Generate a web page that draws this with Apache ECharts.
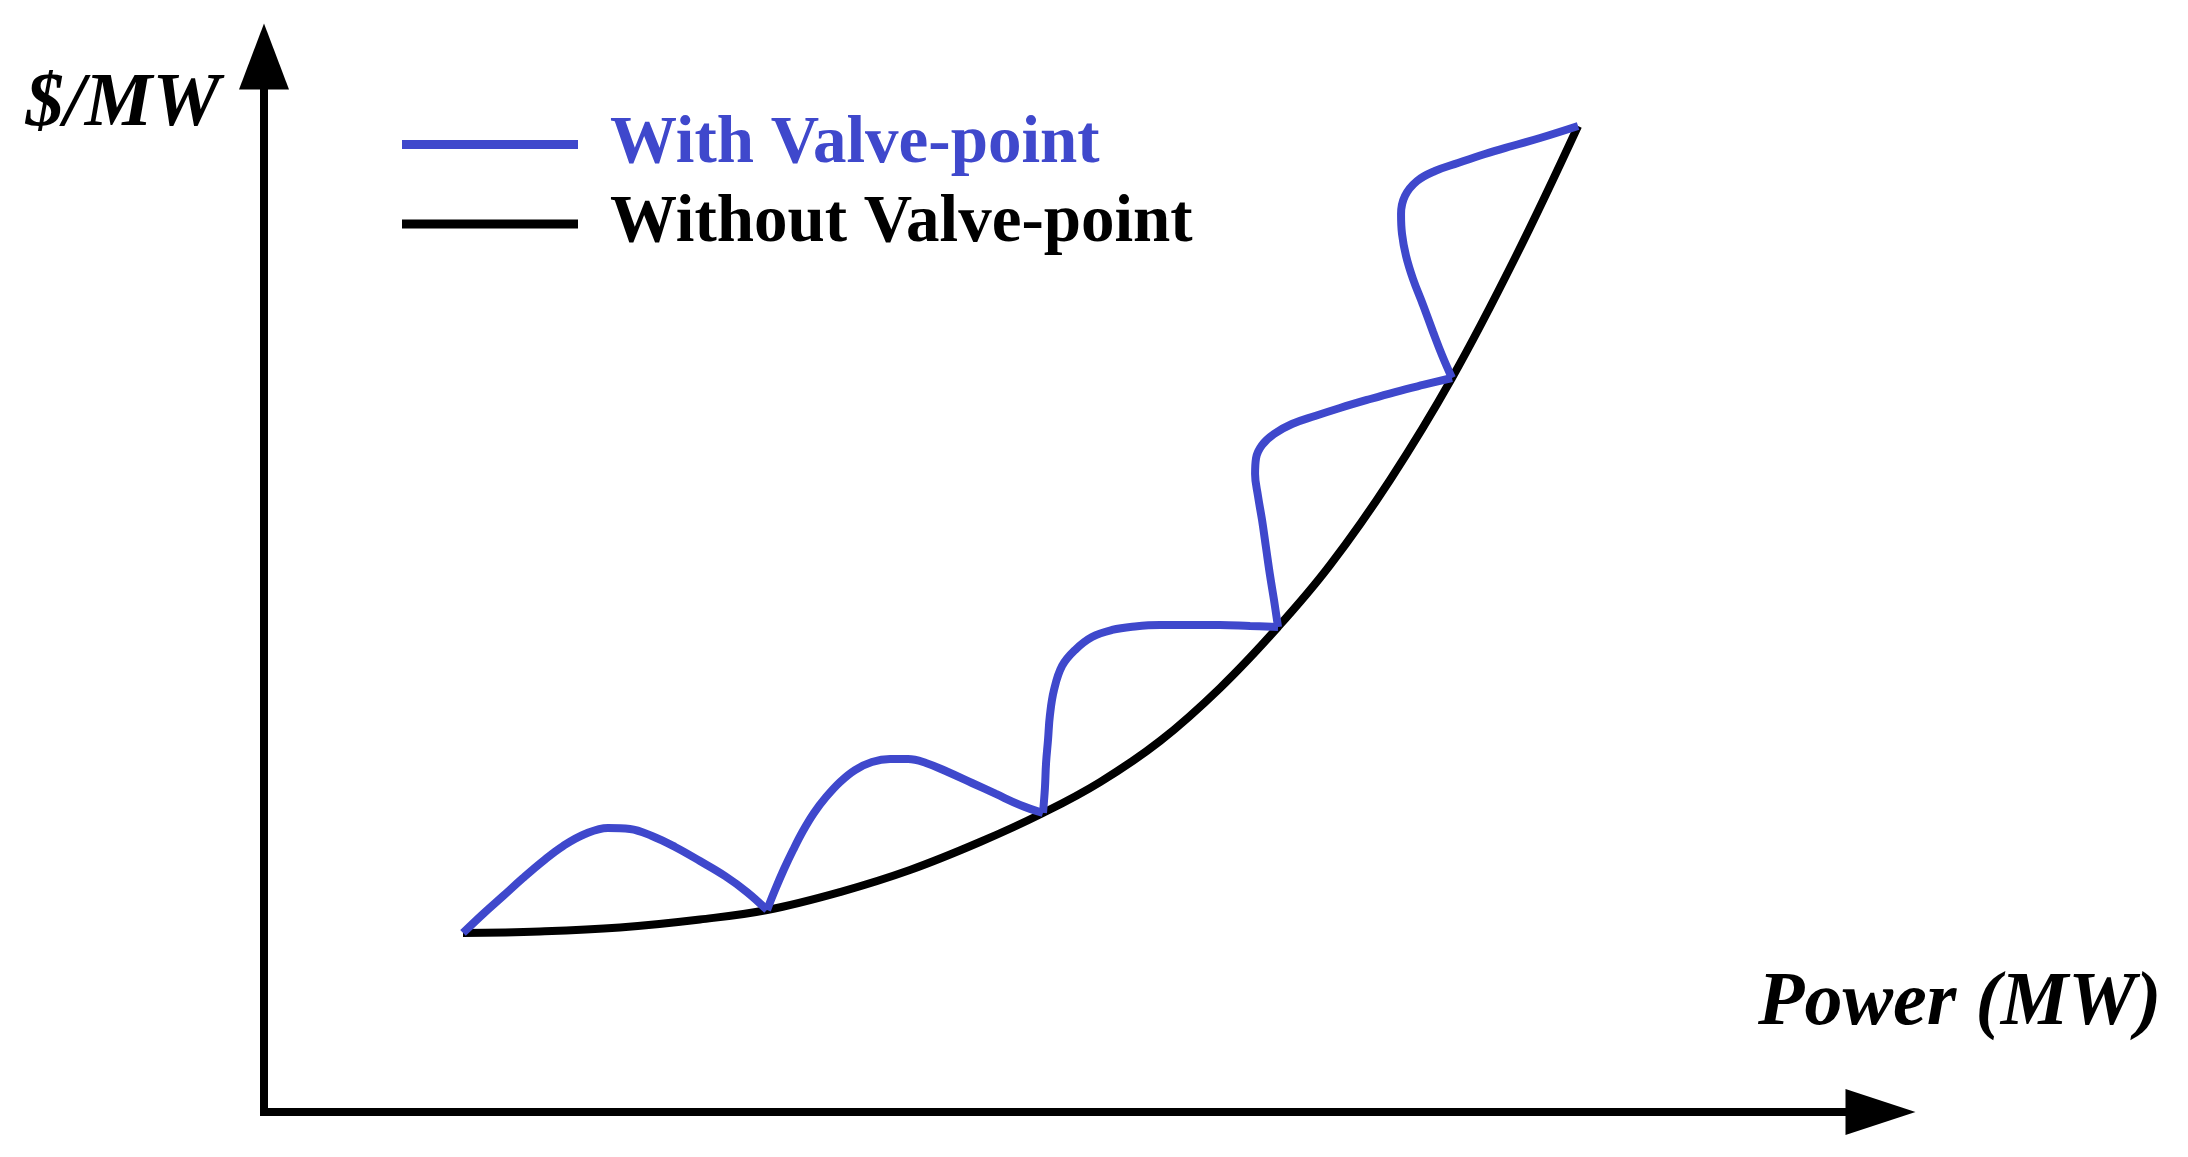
<!DOCTYPE html>
<html>
<head>
<meta charset="utf-8">
<script src="https://cdn.jsdelivr.net/npm/echarts@6/dist/echarts.min.js"></script>
<style>
html,body{margin:0;padding:0;background:#fff;}
#chart{width:2188px;height:1157px;}
</style>
</head>
<body>
<div id="chart"></div>
<script>
// ---- Data (schematic units 0..100) ----
const seriesNames = ['With Valve-point', 'Without Valve-point'];
const axisNames = ['Power (MW)', '$/MW'];

// Cost curve with valve-point effect (blue)
const withValvePower = [
  12.31, 13.55, 14.79, 16.02, 17.26, 18.50, 19.86, 21.28, 22.64, 24.00, 25.43, 26.97, 28.52, 29.88, 31.12,
  31.61, 32.17, 32.73, 33.34, 34.02, 34.77, 35.63, 36.56, 37.61, 38.73, 39.84, 40.95, 42.31, 43.80, 45.28, 46.77, 48.19,
  48.31, 48.38, 48.50, 48.62, 48.87, 49.37, 50.17, 51.22, 52.46, 53.88, 55.43, 57.28, 59.14, 61.00, 62.73,
  62.48, 62.23, 61.99, 61.74, 61.49, 61.31, 61.37, 61.74, 62.48, 63.59, 65.02, 66.56, 68.23, 69.97, 71.70, 73.49,
  72.87, 72.32, 71.70, 71.08, 70.65, 70.40, 70.34, 70.58, 71.33, 72.44, 73.86, 75.53, 77.20, 78.94, 81.29];
const withValveCost = [
  16.96, 18.76, 20.46, 22.17, 23.78, 25.20, 26.34, 26.91, 26.81, 26.15, 25.11, 23.78, 22.36, 20.84, 19.14,
  21.03, 23.02, 24.82, 26.62, 28.33, 29.84, 31.26, 32.40, 33.16, 33.44, 33.44, 33.07, 32.21, 31.17, 30.13, 29.09, 28.33,
  30.70, 33.07, 35.24, 37.61, 39.98, 42.26, 43.77, 45.00, 45.67, 46.00, 46.14, 46.14, 46.14, 46.04, 45.95,
  48.51, 50.88, 53.43, 56.09, 58.36, 60.45, 61.96, 63.19, 64.24, 65.18, 65.94, 66.70, 67.46, 68.21, 68.88, 69.54,
  71.72, 73.90, 76.46, 78.92, 81.10, 83.18, 85.08, 86.78, 88.20, 89.15, 89.91, 90.76, 91.52, 92.28, 93.42];
// indices of the valve-point cusps (where the blue curve touches the black one)
const cuspIndex = [0, 14, 31, 46, 62, 77];

// Cost curve without valve-point effect (black)
const withoutValvePower = [12.31, 17.07, 22.02, 26.97, 31.12, 35.63, 39.96, 44.29, 48.19,
  51.72, 55.43, 59.14, 62.73, 65.95, 69.66, 73.49, 77.39, 81.29];
const withoutValveCost = [16.96, 17.10, 17.48, 18.24, 19.14, 20.84, 22.93, 25.58, 28.33,
  31.26, 35.15, 40.17, 45.95, 51.82, 59.88, 69.54, 80.91, 93.42];

// ---- Build chart ----
const BLUE = '#3F48CC';
const BLACK = '#000000';
const FONT = '"Liberation Serif", "Times New Roman", serif';

function pairs(xs, ys, a, b) {
  const out = [];
  for (let i = a; i <= b; i++) out.push([xs[i], ys[i]]);
  return out;
}

const series = [{
  name: seriesNames[1],
  type: 'line',
  data: pairs(withoutValvePower, withoutValveCost, 0, withoutValvePower.length - 1),
  smooth: 0.4,
  showSymbol: false,
  symbol: 'none',
  itemStyle: { color: BLACK },
  lineStyle: { color: BLACK, width: 8 },
  z: 2
}];
for (let s = 0; s < cuspIndex.length - 1; s++) {
  series.push({
    name: seriesNames[0],
    type: 'line',
    data: pairs(withValvePower, withValveCost, cuspIndex[s], cuspIndex[s + 1]),
    smooth: 0.4,
    showSymbol: false,
    symbol: 'none',
    itemStyle: { color: BLUE },
    lineStyle: { color: BLUE, width: 8 },
    z: 3
  });
}

const chart = echarts.init(document.getElementById('chart'), null, { renderer: 'canvas' });
chart.setOption({
  animation: false,
  backgroundColor: '#ffffff',
  textStyle: { fontFamily: FONT },
  grid: { left: 264, right: 307.5, top: 56.5, bottom: 45, containLabel: false, outerBoundsMode: 'none' },
  legend: {
    orient: 'vertical',
    left: 402,
    top: 111,
    padding: 0,
    itemGap: 12.5,
    itemWidth: 176,
    itemHeight: 9,
    icon: 'rect',
    selectedMode: false,
    textStyle: { fontFamily: FONT, fontWeight: 'bold', fontSize: 67, lineHeight: 67, padding: [0, 0, 0, 27] },
    data: [
      { name: seriesNames[0], textStyle: { color: BLUE } },
      { name: seriesNames[1], textStyle: { color: BLACK } }
    ]
  },
  xAxis: {
    type: 'value',
    min: 0,
    max: 100,
    name: axisNames[0],
    nameLocation: 'end',
    nameGap: -122.5,
    nameTextStyle: {
      fontFamily: FONT, fontWeight: 'bold', fontStyle: 'italic', fontSize: 76, color: BLACK,
      align: 'left', verticalAlign: 'bottom', lineHeight: 76, padding: [0, 0, 70, 0]
    },
    axisLine: {
      show: true, onZero: false,
      symbol: ['none', 'triangle'], symbolSize: [46, 70],
      lineStyle: { color: BLACK, width: 8, cap: 'square' }
    },
    axisTick: { show: false },
    axisLabel: { show: false },
    splitLine: { show: false }
  },
  yAxis: {
    type: 'value',
    min: 0,
    max: 100,
    name: axisNames[1],
    nameLocation: 'end',
    nameGap: -48.5,
    nameTextStyle: {
      fontFamily: FONT, fontWeight: 'bold', fontStyle: 'italic', fontSize: 76, color: BLACK,
      align: 'right', verticalAlign: 'middle', lineHeight: 76, padding: [0, 44, 0, 0]
    },
    axisLine: {
      show: true, onZero: false,
      symbol: ['none', 'triangle'], symbolSize: [50, 66],
      lineStyle: { color: BLACK, width: 8, cap: 'square' }
    },
    axisTick: { show: false },
    axisLabel: { show: false },
    splitLine: { show: false }
  },
  series: series
});
</script>
</body>
</html>
